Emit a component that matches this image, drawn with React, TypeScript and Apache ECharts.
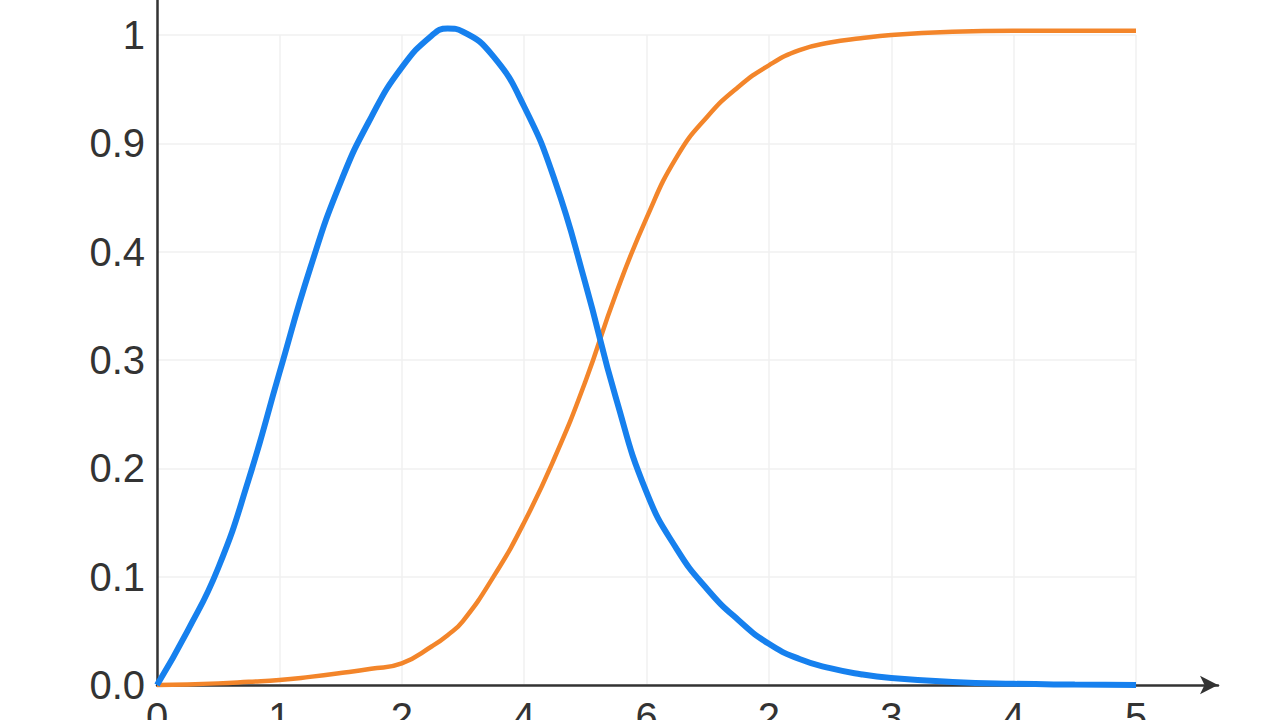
import React, { useEffect, useRef } from "react";
import * as echarts from "echarts";

// Positions along the x axis (in tick-index units)
const xPositions = [0, 0.25, 0.5, 0.75, 1, 1.25, 1.5, 1.75, 2, 2.25, 2.375, 2.5, 2.75, 3, 3.25, 3.5, 3.75, 4, 4.25, 4.5, 4.75, 5, 5.25, 5.5, 5.75, 6, 6.5, 7, 7.5, 8];
// Blue bell-shaped curve (in tick-index units on the y axis)
const blueValues = [0, 0.5, 1.08, 1.9, 2.88, 3.84, 4.64, 5.24, 5.7, 6.0, 6.06, 6.03, 5.8, 5.34, 4.66, 3.71, 2.65, 1.78, 1.25, 0.88, 0.6, 0.38, 0.24, 0.155, 0.1, 0.065, 0.028, 0.011, 0.004, 0];
// Orange S-shaped curve
const orangeValues = [0, 0.005, 0.015, 0.03, 0.046, 0.075, 0.11, 0.15, 0.2, 0.36, 0.46, 0.59, 1.0, 1.5, 2.1, 2.8, 3.61, 4.31, 4.88, 5.25, 5.52, 5.72, 5.86, 5.93, 5.97, 6.0, 6.03, 6.04, 6.04, 6.04];

const xTickLabels = ["0", "1", "2", "4", "6", "2", "3", "4", "5"];
const yTickLabels = ["0.0", "0.1", "0.2", "0.3", "0.4", "0.9", "1"];

const FONT = "'Liberation Sans', Arial, sans-serif";

export default function App() {
  const ref = useRef<HTMLDivElement>(null);

  useEffect(() => {
    if (!ref.current) return;
    const chart = echarts.init(ref.current, undefined, { renderer: "svg" });
    const blue = xPositions.map((x, i) => [x, blueValues[i]]);
    const orange = xPositions.map((x, i) => [x, orangeValues[i]]);
    chart.setOption({
      animation: false,
      backgroundColor: "#ffffff",
      grid: [
        { left: 157, right: 144, top: 35, bottom: 35, containLabel: false, outerBoundsMode: "none" },
        { left: 157, right: 62, top: -2, bottom: 35, containLabel: false, outerBoundsMode: "none" },
      ],
      xAxis: [
        {
          type: "value",
          gridIndex: 0,
          min: 0,
          max: 8,
          interval: 1,
          axisLine: { show: false },
          axisTick: { show: false },
          splitLine: { show: true, lineStyle: { color: "#f0f0f0", width: 1.5 } },
          axisLabel: {
            show: true,
            margin: 12,
            fontSize: 40,
            fontFamily: FONT,
            color: "#333333",
            formatter: (v: number) => {
              const idx = Math.round(v);
              return Math.abs(v - idx) < 1e-6 && xTickLabels[idx] !== undefined ? xTickLabels[idx] : "";
            },
          },
        },
        {
          type: "value",
          gridIndex: 1,
          min: 0,
          max: 1,
          axisLine: {
            show: true,
            symbol: ["none", "arrow"],
            symbolSize: [14, 18],
            lineStyle: { color: "#333333", width: 2.5 },
          },
          axisTick: { show: false },
          axisLabel: { show: false },
          splitLine: { show: false },
        },
      ],
      yAxis: [
        {
          type: "value",
          gridIndex: 0,
          min: 0,
          max: 6,
          interval: 1,
          axisLine: { show: false },
          axisTick: { show: false },
          splitLine: { show: true, lineStyle: { color: "#f0f0f0", width: 1.5 } },
          axisLabel: {
            show: true,
            margin: 12,
            fontSize: 40,
            fontFamily: FONT,
            color: "#333333",
            formatter: (v: number) => {
              const idx = Math.round(v);
              return Math.abs(v - idx) < 1e-6 && yTickLabels[idx] !== undefined ? yTickLabels[idx] : "";
            },
          },
        },
        {
          type: "value",
          gridIndex: 1,
          min: 0,
          max: 1,
          axisLine: { show: true, lineStyle: { color: "#333333", width: 2.5 } },
          axisTick: { show: false },
          axisLabel: { show: false },
          splitLine: { show: false },
        },
      ],
      series: [
        {
          type: "line",
          xAxisIndex: 0,
          yAxisIndex: 0,
          data: orange,
          smooth: 0.5,
          clip: false,
          showSymbol: false,
          lineStyle: { color: "#f3852a", width: 4.5 },
          z: 3,
        },
        {
          type: "line",
          xAxisIndex: 0,
          yAxisIndex: 0,
          data: blue,
          smooth: 0.5,
          clip: false,
          showSymbol: false,
          lineStyle: { color: "#1680ee", width: 6 },
          z: 4,
        },
      ],
    });
    return () => chart.dispose();
  }, []);

  return (
    <div
      ref={ref}
      style={{ position: "fixed", left: 0, top: 0, width: 1280, height: 720, background: "#fff" }}
    />
  );
}
